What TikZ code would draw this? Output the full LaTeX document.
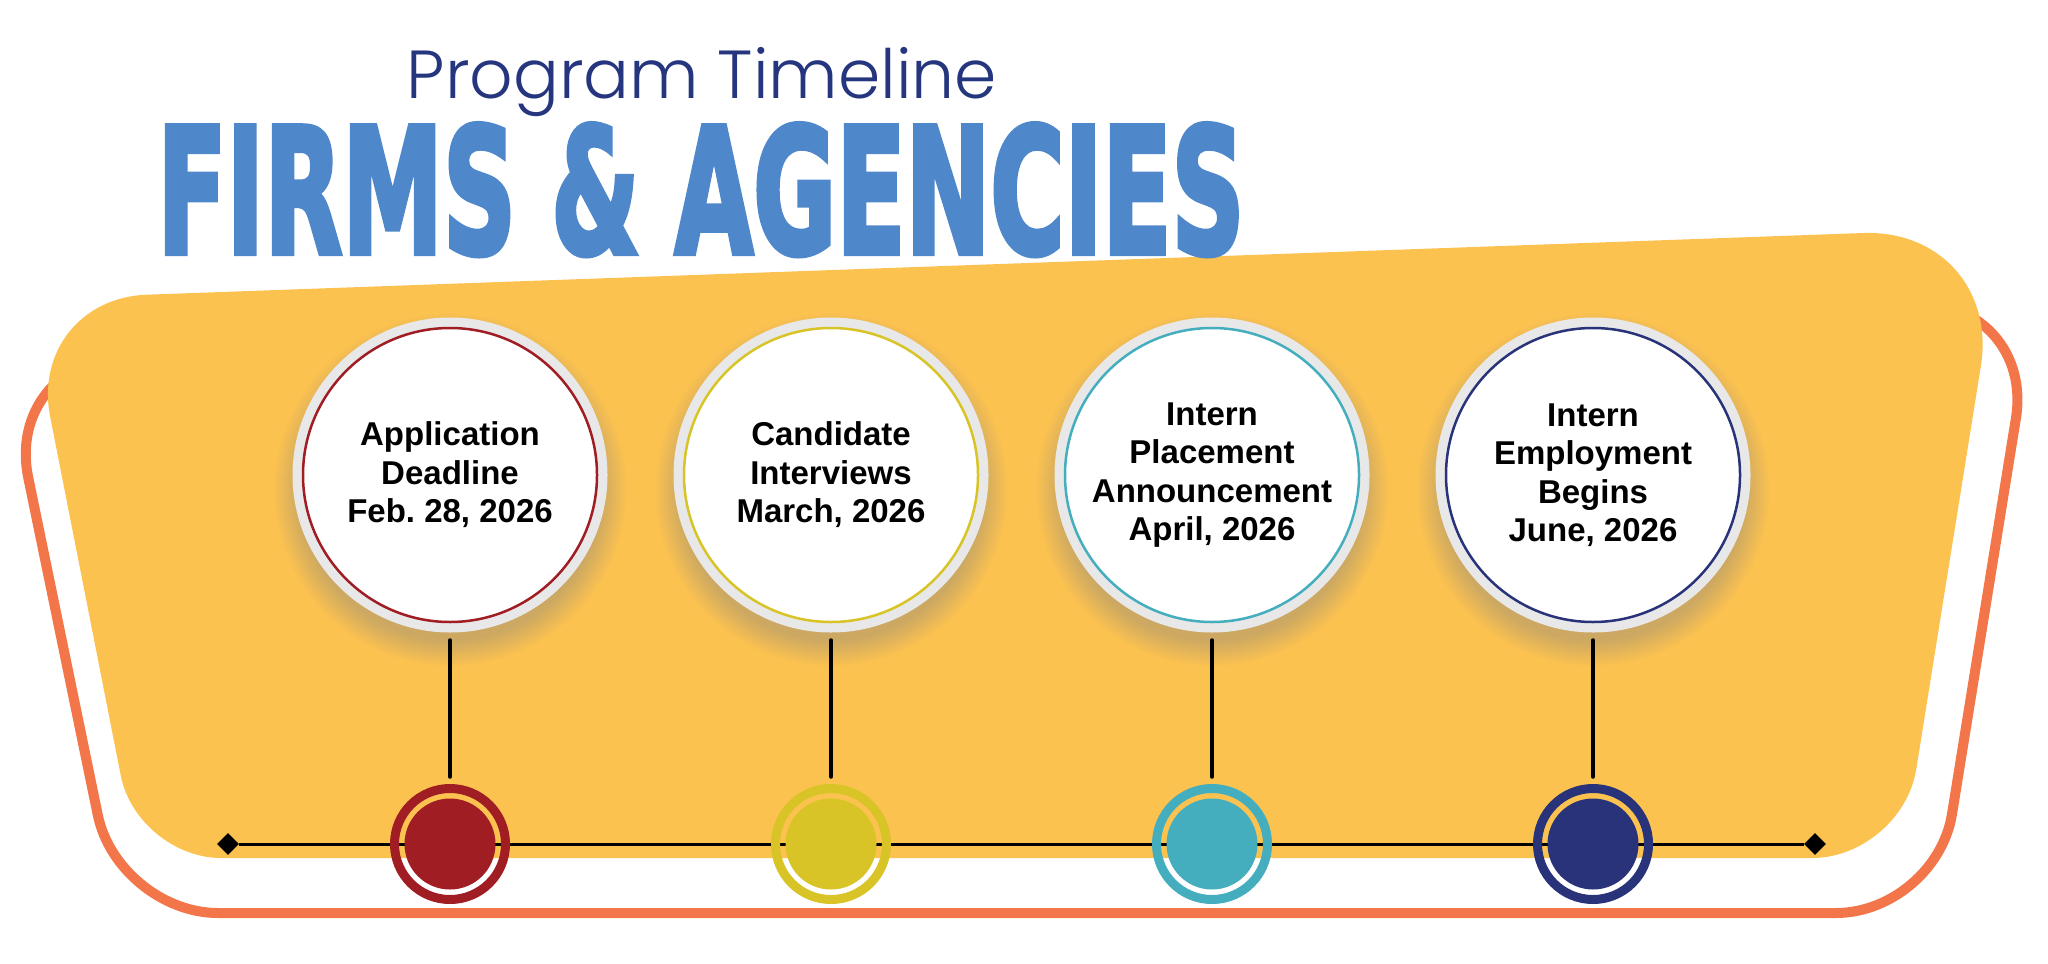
\documentclass[tikz,border=0pt]{standalone}
\usepackage{fontspec}
\usetikzlibrary{positioning,shapes.geometric,shadows}
\newfontfamily\evtfont{Liberation Sans}
\newfontfamily\bannerfont{DejaVu Sans}[FakeBold=3.5]
\newfontfamily\subtitlefont{Poppins}[UprightFont=* Light]
\definecolor{Sun}{HTML}{FCC250}
\definecolor{Flame}{HTML}{F3764B}
\definecolor{Ruby}{HTML}{A01D24}
\definecolor{Olive}{HTML}{D8C426}
\definecolor{Lagoon}{HTML}{44AEBF}
\definecolor{Indigo}{HTML}{28337A}
\definecolor{Sky}{HTML}{4F88CA}
\definecolor{Navy}{HTML}{25367F}
\definecolor{Rim}{HTML}{E8E8E8}

\tikzset{
  evt/.style={circle,fill=white,draw=#1,line width=1.25pt,minimum size=147pt,
    inner sep=0pt,outer sep=0pt,align=center,
    font=\evtfont\bfseries\fontsize{16.5}{19.25}\selectfont,
    circular drop shadow={shadow scale=1.2,shadow xshift=0pt,shadow yshift=-6pt,opacity=0.38},
    preaction={draw=Rim,line width=10.5pt}},
  stopdot/.style={circle,fill=#1,minimum size=45.5pt,inner sep=0pt,outer sep=0pt},
  stopring/.style={draw=#1,line width=4.5pt},
  stem/.style={line width=1.75pt,line cap=round,shorten <=9pt,shorten >=10.75pt},
  railline/.style={line width=1.5pt},
  capdiamond/.style={diamond,fill=black,minimum size=11pt,inner sep=0pt}
}

\begin{document}
\begin{tikzpicture}[x=0.5pt,y=-0.5pt]
    \useasboundingbox (0,0) rectangle (2048,963);
    % frame and panel
    \draw[Flame,line width=5pt] (1000,330) [rounded corners=60pt] -- (4,360)
      [rounded corners=50pt] -- (118,913) [rounded corners=50pt] -- (1936,913)
      [rounded corners=60pt] -- (2035,300) -- cycle;
    \fill[Sun] (1000,264) [rounded corners=60pt] -- (27,299)
      [rounded corners=42pt] -- (137,858) [rounded corners=45pt] -- (1902,858)
      [rounded corners=70pt] -- (2003,228) -- cycle;

    % headings
    \node[anchor=base,text=Navy,font=\subtitlefont\fontsize{34}{40}\selectfont]
      (subtitle) at (702,98) {Program Timeline};
    \node[anchor=base west,inner sep=0pt,text=Sky] (banner) at (157,253)
      {\resizebox{543.5pt}{64.5pt}{\bannerfont\bfseries FIRMS \& AGENCIES}};

    % time axis
    \node[capdiamond] (railL) at (228,844) {};
    \node[capdiamond] (railR) at (1815,844) {};
    \draw[railline] (railL) -- (railR);

    % milestones
    \node[evt=Ruby] (evt1) at (450,475) {Application\\Deadline\\Feb.\ 28, 2026};
    \node[evt=Olive] (evt2) at (831,475) {Candidate\\Interviews\\March, 2026};
    \node[evt=Lagoon] (evt3) at (1212,475) {Intern\\Placement\\Announcement\\April, 2026};
    \node[evt=Indigo] (evt4) at (1593,475) {Intern\\Employment\\Begins\\June, 2026};

    \node[stopdot=Ruby] (dot1) at (450,844) {};
    \node[stopdot=Olive] (dot2) at (831,844) {};
    \node[stopdot=Lagoon] (dot3) at (1212,844) {};
    \node[stopdot=Indigo] (dot4) at (1593,844) {};
    \draw[stopring=Ruby] (dot1.center) circle[radius=27.75pt];
    \draw[stopring=Olive] (dot2.center) circle[radius=27.75pt];
    \draw[stopring=Lagoon] (dot3.center) circle[radius=27.75pt];
    \draw[stopring=Indigo] (dot4.center) circle[radius=27.75pt];

    \draw[stem] (evt1.south) -- (dot1.north);
    \draw[stem] (evt2.south) -- (dot2.north);
    \draw[stem] (evt3.south) -- (dot3.north);
    \draw[stem] (evt4.south) -- (dot4.north);
\end{tikzpicture}
\end{document}
